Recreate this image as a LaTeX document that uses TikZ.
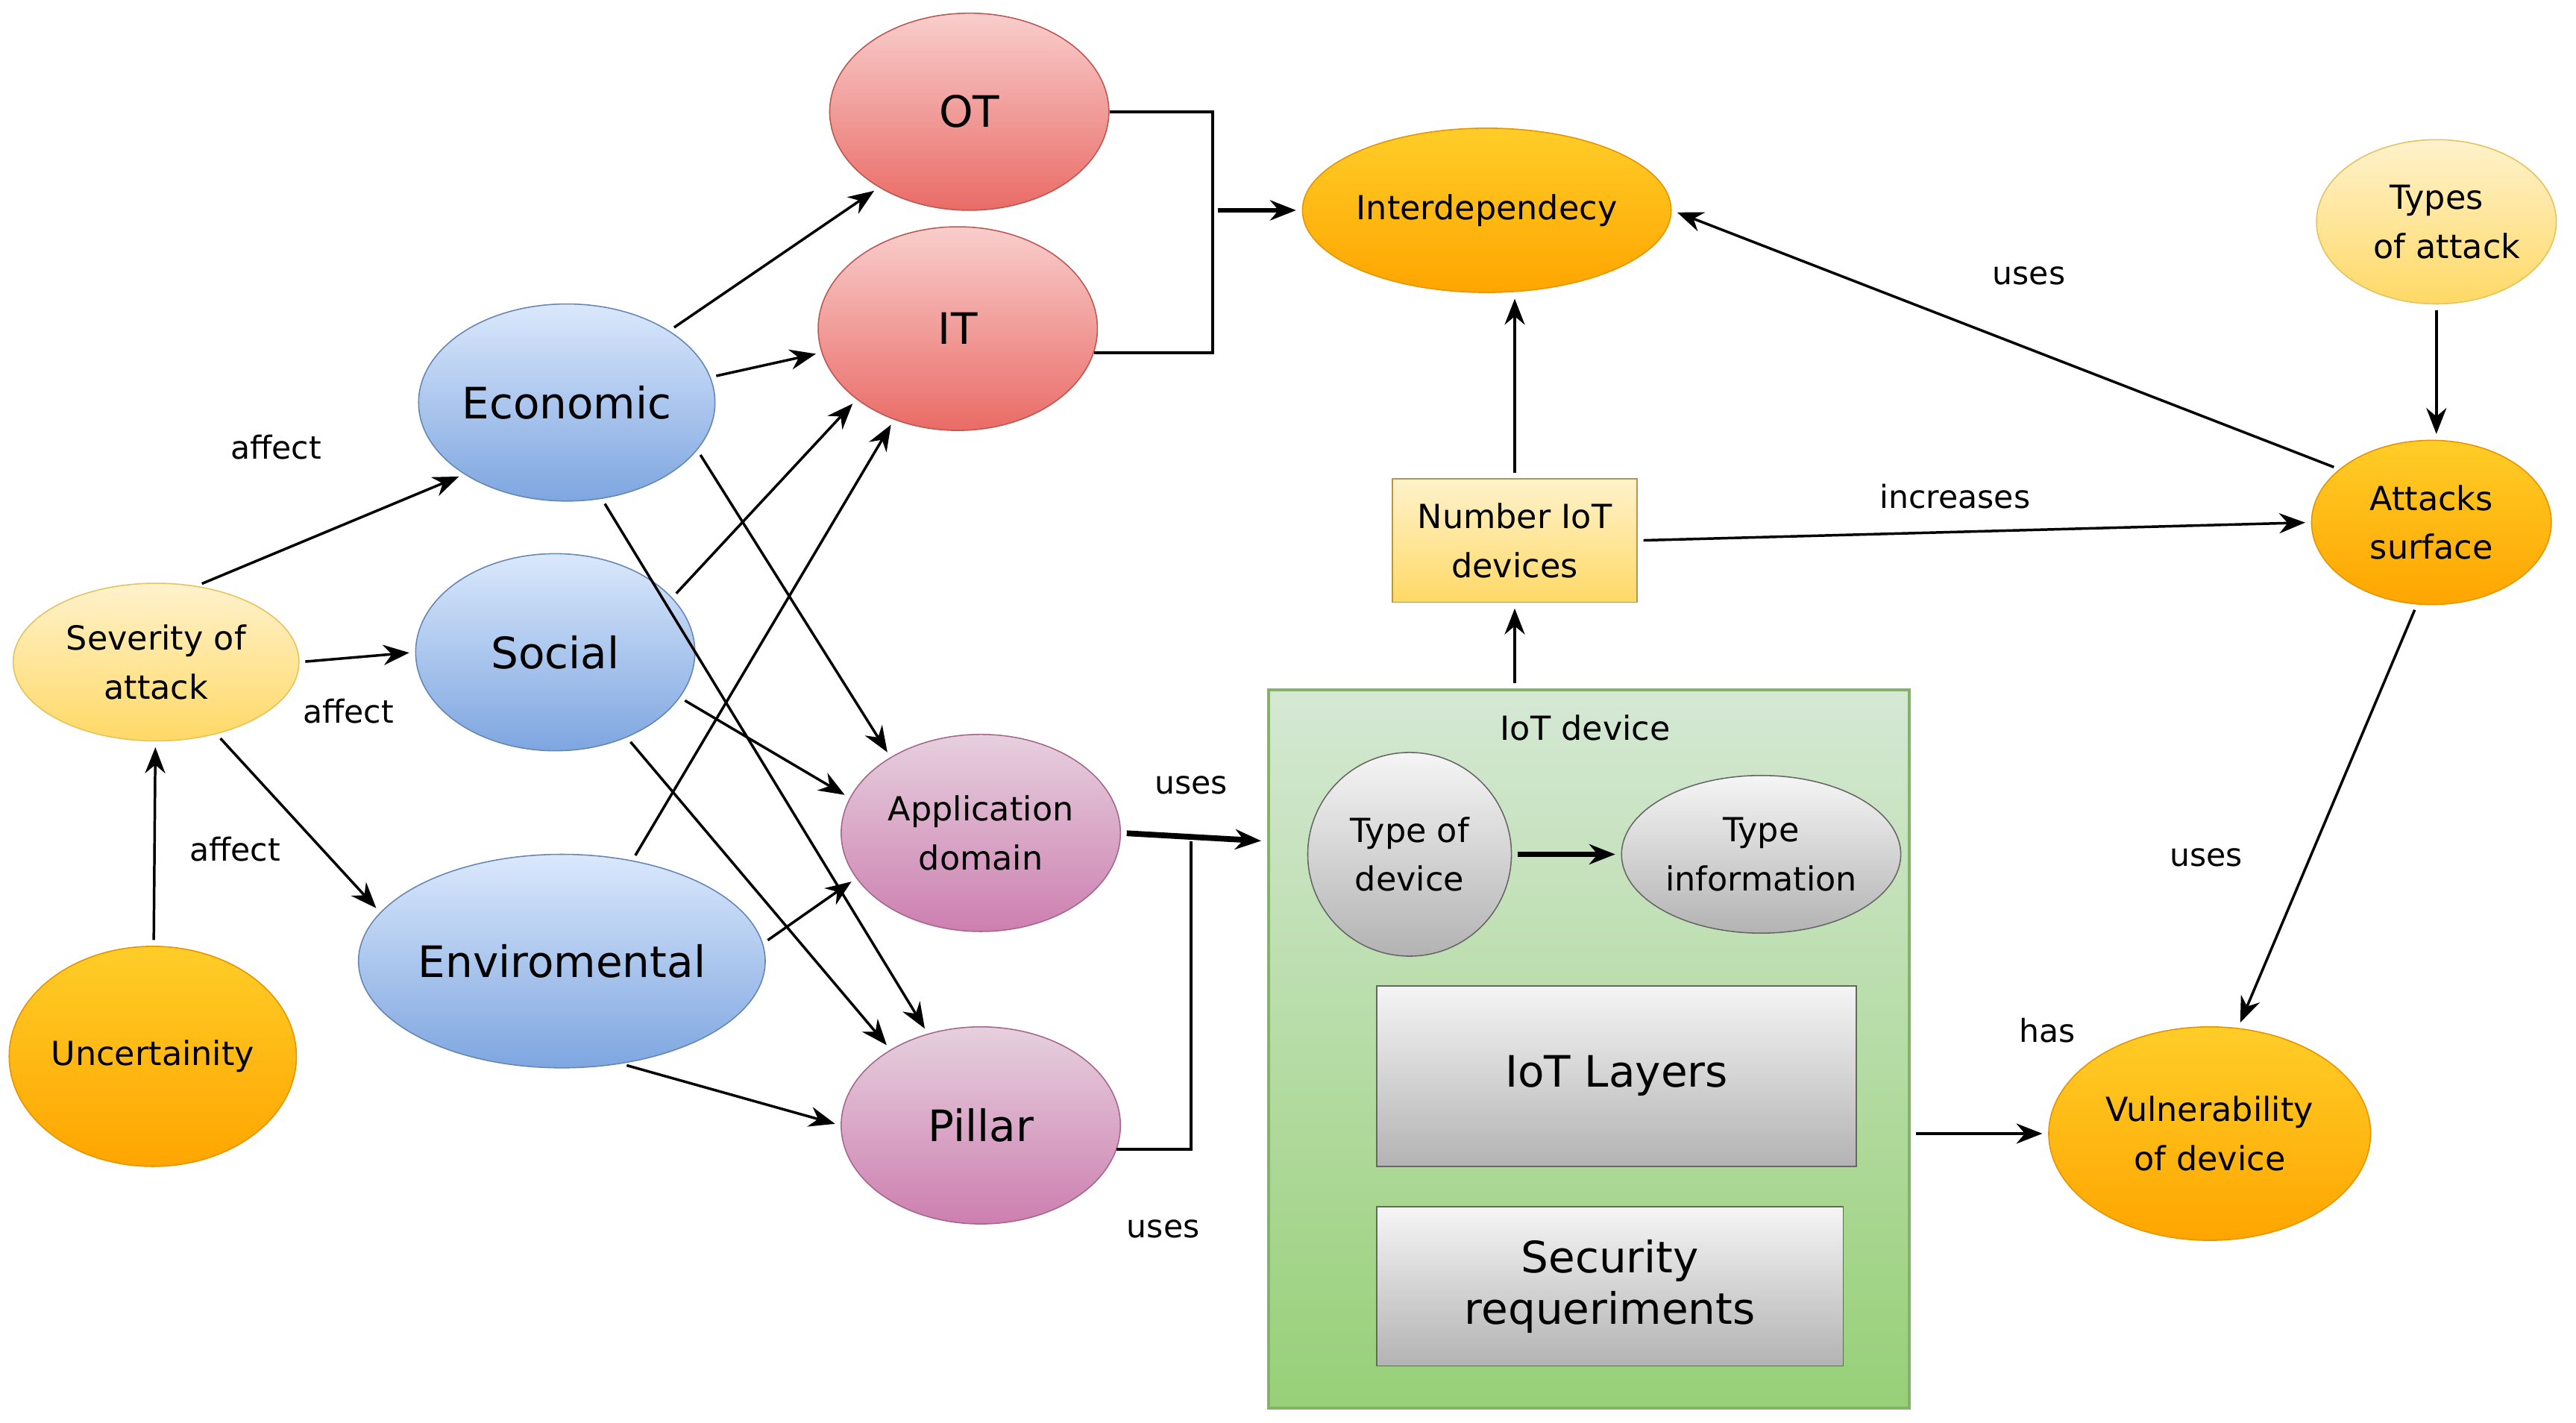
\documentclass[tikz,border=0pt]{standalone}
\usepackage{fontspec}
\setmainfont{DejaVu Sans}
\usetikzlibrary{arrows.meta,shapes.geometric}
\definecolor{redT}{HTML}{F8CECC}\definecolor{redB}{HTML}{EA6B66}
\definecolor{bluT}{HTML}{DAE8FC}\definecolor{bluB}{HTML}{7EA6E0}
\definecolor{pinT}{HTML}{E6D0DE}\definecolor{pinB}{HTML}{CD7FB0}
\definecolor{orT}{HTML}{FFCD28}\definecolor{orB}{HTML}{FFA500}
\definecolor{yeT}{HTML}{FFF2CC}\definecolor{yeB}{HTML}{FFD966}
\definecolor{grT}{HTML}{F5F5F5}\definecolor{grB}{HTML}{B3B3B3}
\definecolor{gnT}{HTML}{D5E8D4}\definecolor{gnB}{HTML}{97D077}
\definecolor{gnS}{HTML}{82B366}
\tikzset{
 ell/.style={ellipse,inner sep=0pt,align=center},
 red/.style={ell,draw=redB!80!black,top color=redT,bottom color=redB},
 blu/.style={ell,draw=bluB!80!black,top color=bluT,bottom color=bluB},
 pin/.style={ell,draw=pinB!80!black,top color=pinT,bottom color=pinB},
 ora/.style={ell,draw=orB!90!black,top color=orT,bottom color=orB},
 yel/.style={ell,draw=yeB!90!black,top color=yeT,bottom color=yeB},
 gry/.style={ell,draw=black!60,top color=grT,bottom color=grB},
 grect/.style={draw=black!60,top color=grT,bottom color=grB,inner sep=0pt,align=center},
 arr/.style={-{Stealth[length=9pt,width=7pt]},line width=0.9pt,shorten >=2pt,shorten <=2pt},
 lab/.style={font=\fontsize{11}{13}\selectfont},
 big/.style={font=\fontsize{15}{18}\selectfont},
 mid/.style={font=\fontsize{11.5}{17}\selectfont},
}
\begin{document}
\begin{tikzpicture}[x=0.02cm,y=-0.02cm]
\useasboundingbox (0,0) rectangle (1568,866);
\fill[white] (0,0) rectangle (1568,866);
% green box
\node[draw=gnS,line width=1pt,top color=gnT,bottom color=gnB,minimum width=7.8cm,minimum height=8.74cm,inner sep=0pt] (box) at (967,638.5) {};
\node[mid] (boxl) at (965,443) {IoT device};
\node[gry,minimum width=2.48cm,minimum height=2.48cm,mid] (tod) at (858,520) {Type of\\device};
\node[gry,minimum width=3.4cm,minimum height=1.92cm,mid] (ti) at (1072,520) {Type\\information};
\node[grect,minimum width=5.84cm,minimum height=2.2cm,big] (lay) at (984,655) {IoT Layers};
\node[grect,minimum width=5.68cm,minimum height=1.94cm,big] (sec) at (980,783) {Security\\requeriments};

\node[red,minimum width=3.4cm,minimum height=2.4cm,big] (ot) at (590,68) {OT};
\node[red,minimum width=3.4cm,minimum height=2.48cm,big] (it) at (583,200) {IT};
\node[blu,minimum width=3.4cm,minimum height=2.4cm,big] (eco) at (345,245) {Economic};
\node[blu,minimum width=3.4cm,minimum height=2.4cm,big] (soc) at (338,397) {Social};
\node[blu,minimum width=4cm,minimum height=2.6cm,big] (env) at (342,585) {Enviromental};
\node[yel,minimum width=3.48cm,minimum height=1.92cm,mid] (sev) at (95,403) {Severity of\\attack};
\node[ora,minimum width=2.88cm,minimum height=2.68cm,mid] (unc) at (93,643) {Uncertainity};
\node[pin,minimum width=3.4cm,minimum height=2.4cm,mid] (app) at (597,507) {Application\\domain};
\node[pin,minimum width=3.4cm,minimum height=2.4cm,big] (pil) at (597,685) {Pillar};
\node[ora,minimum width=4cm,minimum height=2cm,mid] (int) at (905,128) {Interdependecy};
\node[yel,minimum width=2.92cm,minimum height=2cm,mid] (toa) at (1483,135) {Types\\\ \ of attack};
\node[ora,minimum width=2.92cm,minimum height=2cm,mid] (as) at (1480,318) {Attacks\\surface};
\node[draw=yeB!70!black,top color=yeT,bottom color=yeB,minimum width=2.98cm,minimum height=1.5cm,inner sep=0pt,align=center,mid] (num) at (922,329) {Number IoT\\devices};
\node[ora,minimum width=3.92cm,minimum height=2.6cm,mid] (vul) at (1345,690) {Vulnerability\\of device};

% labels
\node[lab] (l1) at (168,272) {affect};
\node[lab] (l2) at (212,433) {affect};
\node[lab] (l3) at (143,517) {affect};
\node[lab] (l4) at (725,478) {uses};
\node[lab] (l5) at (708,748) {uses};
\node[lab] (l6) at (1190,302) {increases};
\node[lab] (l7) at (1235,168) {uses};
\node[lab] (l8) at (1343,522) {uses};
\node[lab] (l9) at (1246,627) {has};

% edges
\draw[arr] (sev.62) -- (eco.215);
\draw[arr] (sev.east) -- (soc.west);
\draw[arr] (sev.-50) -- (env.165);
\draw[arr] (unc) -- (sev);
\draw[arr] (eco.35) -- (ot.220);
\draw[arr] (eco.10) -- (it.190);
\draw[arr] (eco.-20) -- (app.140);
\draw[arr] (eco.-70) -- (pil.120);
\draw[arr] (soc.25) -- (it.215);
\draw[arr] (soc.-20) -- (app.165);
\draw[arr] (soc.-50) -- (pil.140);
\draw[arr] (env.55) -- (it.235);
\draw[arr] (env.5) -- (app.200);
\draw[arr] (env.-60) -- (pil.180);
\coordinate (m1) at (738,128);
\draw[line width=1pt] (ot.east) -| (m1);
\draw[line width=1pt] (it.-10) -| (m1);
\draw[arr,line width=1.6pt] (m1) -- (int.west);
\coordinate (m2) at (725,512);
\draw[line width=1pt] (pil.-10) -| (m2);
\draw[arr,line width=2pt] (app.east) -- (box.west |- m2);
\draw[arr] (num.north) -- (num.north |- int.south);
\draw[arr] (box.north -| num) -- (num.south);
\draw[arr] (num.east) -- (as.west);
\draw[arr] (as.150) -- (int.east);
\draw[arr] (toa) -- (toa |- as.north);
\draw[arr] (as.-100) -- (vul.75);
\draw[arr] (box.east |- vul) -- (vul.west);
\draw[arr,line width=2pt] (tod.east) -- (ti.west);
\end{tikzpicture}
\end{document}
